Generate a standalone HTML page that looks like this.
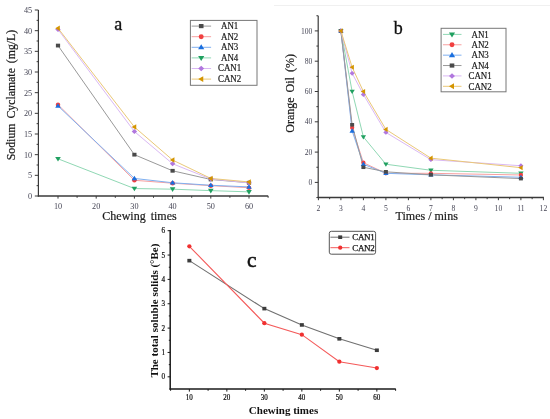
<!DOCTYPE html>
<html><head><meta charset="utf-8"><style>
html,body{margin:0;padding:0;background:#fff;}
svg{display:block;font-family:"Liberation Serif", serif;will-change:transform;}
</style></head><body>
<svg width="550" height="419" viewBox="0 0 550 419">
<rect width="550" height="419" fill="#fff"/>
<line x1="274" y1="5.5" x2="550" y2="5.5" stroke="#f0f0f0" stroke-width="1"/>
<line x1="38.40" y1="10.01" x2="38.40" y2="196.60" stroke="#3a3a3a" stroke-width="1.2" />
<line x1="37.80" y1="196.00" x2="268.20" y2="196.00" stroke="#3a3a3a" stroke-width="1.3" />
<line x1="34.80" y1="196.00" x2="38.40" y2="196.00" stroke="#3a3a3a" stroke-width="1" />
<text transform="translate(32.20 199.10)" font-size="8.2" text-anchor="end" fill="#454555" >0</text>
<line x1="34.80" y1="175.34" x2="38.40" y2="175.34" stroke="#3a3a3a" stroke-width="1" />
<text transform="translate(32.20 178.44)" font-size="8.2" text-anchor="end" fill="#454555" >5</text>
<line x1="34.80" y1="154.67" x2="38.40" y2="154.67" stroke="#3a3a3a" stroke-width="1" />
<text transform="translate(32.20 157.77)" font-size="8.2" text-anchor="end" fill="#454555" >10</text>
<line x1="34.80" y1="134.00" x2="38.40" y2="134.00" stroke="#3a3a3a" stroke-width="1" />
<text transform="translate(32.20 137.10)" font-size="8.2" text-anchor="end" fill="#454555" >15</text>
<line x1="34.80" y1="113.34" x2="38.40" y2="113.34" stroke="#3a3a3a" stroke-width="1" />
<text transform="translate(32.20 116.44)" font-size="8.2" text-anchor="end" fill="#454555" >20</text>
<line x1="34.80" y1="92.67" x2="38.40" y2="92.67" stroke="#3a3a3a" stroke-width="1" />
<text transform="translate(32.20 95.77)" font-size="8.2" text-anchor="end" fill="#454555" >25</text>
<line x1="34.80" y1="72.01" x2="38.40" y2="72.01" stroke="#3a3a3a" stroke-width="1" />
<text transform="translate(32.20 75.11)" font-size="8.2" text-anchor="end" fill="#454555" >30</text>
<line x1="34.80" y1="51.34" x2="38.40" y2="51.34" stroke="#3a3a3a" stroke-width="1" />
<text transform="translate(32.20 54.45)" font-size="8.2" text-anchor="end" fill="#454555" >35</text>
<line x1="34.80" y1="30.68" x2="38.40" y2="30.68" stroke="#3a3a3a" stroke-width="1" />
<text transform="translate(32.20 33.78)" font-size="8.2" text-anchor="end" fill="#454555" >40</text>
<line x1="34.80" y1="10.01" x2="38.40" y2="10.01" stroke="#3a3a3a" stroke-width="1" />
<text transform="translate(32.20 13.11)" font-size="8.2" text-anchor="end" fill="#454555" >45</text>
<line x1="36.60" y1="185.67" x2="38.40" y2="185.67" stroke="#3a3a3a" stroke-width="1" />
<line x1="36.60" y1="165.00" x2="38.40" y2="165.00" stroke="#3a3a3a" stroke-width="1" />
<line x1="36.60" y1="144.34" x2="38.40" y2="144.34" stroke="#3a3a3a" stroke-width="1" />
<line x1="36.60" y1="123.67" x2="38.40" y2="123.67" stroke="#3a3a3a" stroke-width="1" />
<line x1="36.60" y1="103.01" x2="38.40" y2="103.01" stroke="#3a3a3a" stroke-width="1" />
<line x1="36.60" y1="82.34" x2="38.40" y2="82.34" stroke="#3a3a3a" stroke-width="1" />
<line x1="36.60" y1="61.68" x2="38.40" y2="61.68" stroke="#3a3a3a" stroke-width="1" />
<line x1="36.60" y1="41.01" x2="38.40" y2="41.01" stroke="#3a3a3a" stroke-width="1" />
<line x1="36.60" y1="20.35" x2="38.40" y2="20.35" stroke="#3a3a3a" stroke-width="1" />
<line x1="58.00" y1="196.00" x2="58.00" y2="198.60" stroke="#3a3a3a" stroke-width="1" />
<text transform="translate(58.00 208.90)" font-size="8.2" text-anchor="middle" fill="#454555" >10</text>
<line x1="96.20" y1="196.00" x2="96.20" y2="198.60" stroke="#3a3a3a" stroke-width="1" />
<text transform="translate(96.20 208.90)" font-size="8.2" text-anchor="middle" fill="#454555" >20</text>
<line x1="134.40" y1="196.00" x2="134.40" y2="198.60" stroke="#3a3a3a" stroke-width="1" />
<text transform="translate(134.40 208.90)" font-size="8.2" text-anchor="middle" fill="#454555" >30</text>
<line x1="172.60" y1="196.00" x2="172.60" y2="198.60" stroke="#3a3a3a" stroke-width="1" />
<text transform="translate(172.60 208.90)" font-size="8.2" text-anchor="middle" fill="#454555" >40</text>
<line x1="210.80" y1="196.00" x2="210.80" y2="198.60" stroke="#3a3a3a" stroke-width="1" />
<text transform="translate(210.80 208.90)" font-size="8.2" text-anchor="middle" fill="#454555" >50</text>
<line x1="249.00" y1="196.00" x2="249.00" y2="198.60" stroke="#3a3a3a" stroke-width="1" />
<text transform="translate(249.00 208.90)" font-size="8.2" text-anchor="middle" fill="#454555" >60</text>
<line x1="77.10" y1="196.00" x2="77.10" y2="197.80" stroke="#3a3a3a" stroke-width="1" />
<line x1="115.30" y1="196.00" x2="115.30" y2="197.80" stroke="#3a3a3a" stroke-width="1" />
<line x1="153.50" y1="196.00" x2="153.50" y2="197.80" stroke="#3a3a3a" stroke-width="1" />
<line x1="191.70" y1="196.00" x2="191.70" y2="197.80" stroke="#3a3a3a" stroke-width="1" />
<line x1="229.90" y1="196.00" x2="229.90" y2="197.80" stroke="#3a3a3a" stroke-width="1" />
<line x1="268.10" y1="196.00" x2="268.10" y2="197.80" stroke="#3a3a3a" stroke-width="1" />
<polyline points="58.00,45.56 134.40,154.67 172.60,170.79 210.80,179.47 249.00,182.77" fill="none" stroke="#999999" stroke-width="1"/>
<polyline points="58.00,104.66 134.40,180.29 172.60,183.19 210.80,185.67 249.00,187.73" fill="none" stroke="#f7a0a0" stroke-width="1"/>
<polyline points="58.00,105.90 134.40,178.43 172.60,182.77 210.80,185.25 249.00,186.91" fill="none" stroke="#80b0f0" stroke-width="1"/>
<polyline points="58.00,158.80 134.40,188.56 172.60,189.18 210.80,190.63 249.00,191.87" fill="none" stroke="#90d8b4" stroke-width="1"/>
<polyline points="58.00,29.44 134.40,131.53 172.60,163.76 210.80,179.05 249.00,182.77" fill="none" stroke="#dab8f4" stroke-width="1"/>
<polyline points="58.00,28.20 134.40,126.98 172.60,160.04 210.80,178.43 249.00,181.95" fill="none" stroke="#eac878" stroke-width="1"/>
<rect x="55.90" y="43.67" width="4.20" height="3.78" fill="#4a4a4a"/>
<rect x="132.30" y="152.78" width="4.20" height="3.78" fill="#4a4a4a"/>
<rect x="170.50" y="168.90" width="4.20" height="3.78" fill="#4a4a4a"/>
<rect x="208.70" y="177.58" width="4.20" height="3.78" fill="#4a4a4a"/>
<rect x="246.90" y="180.88" width="4.20" height="3.78" fill="#4a4a4a"/>
<circle cx="58.00" cy="104.66" r="2.25" fill="#F14040"/>
<circle cx="134.40" cy="180.29" r="2.25" fill="#F14040"/>
<circle cx="172.60" cy="183.19" r="2.25" fill="#F14040"/>
<circle cx="210.80" cy="185.67" r="2.25" fill="#F14040"/>
<circle cx="249.00" cy="187.73" r="2.25" fill="#F14040"/>
<path d="M58.00,103.14 L60.80,107.74 L55.20,107.74Z" fill="#1A6FDF"/>
<path d="M134.40,175.67 L137.20,180.27 L131.60,180.27Z" fill="#1A6FDF"/>
<path d="M172.60,180.01 L175.40,184.61 L169.80,184.61Z" fill="#1A6FDF"/>
<path d="M210.80,182.49 L213.60,187.09 L208.00,187.09Z" fill="#1A6FDF"/>
<path d="M249.00,184.15 L251.80,188.75 L246.20,188.75Z" fill="#1A6FDF"/>
<path d="M58.00,161.56 L60.80,156.96 L55.20,156.96Z" fill="#20A060"/>
<path d="M134.40,191.32 L137.20,186.72 L131.60,186.72Z" fill="#20A060"/>
<path d="M172.60,191.94 L175.40,187.34 L169.80,187.34Z" fill="#20A060"/>
<path d="M210.80,193.39 L213.60,188.79 L208.00,188.79Z" fill="#20A060"/>
<path d="M249.00,194.63 L251.80,190.03 L246.20,190.03Z" fill="#20A060"/>
<path d="M58.00,26.94 L60.70,29.44 L58.00,31.94 L55.30,29.44Z" fill="#B177DE"/>
<path d="M134.40,129.03 L137.10,131.53 L134.40,134.03 L131.70,131.53Z" fill="#B177DE"/>
<path d="M172.60,161.26 L175.30,163.76 L172.60,166.26 L169.90,163.76Z" fill="#B177DE"/>
<path d="M210.80,176.55 L213.50,179.05 L210.80,181.55 L208.10,179.05Z" fill="#B177DE"/>
<path d="M249.00,180.27 L251.70,182.77 L249.00,185.27 L246.30,182.77Z" fill="#B177DE"/>
<path d="M55.24,28.20 L59.84,25.50 L59.84,30.90Z" fill="#D49500"/>
<path d="M131.64,126.98 L136.24,124.28 L136.24,129.68Z" fill="#D49500"/>
<path d="M169.84,160.04 L174.44,157.34 L174.44,162.74Z" fill="#D49500"/>
<path d="M208.04,178.43 L212.64,175.73 L212.64,181.13Z" fill="#D49500"/>
<path d="M246.24,181.95 L250.84,179.25 L250.84,184.65Z" fill="#D49500"/>
<text transform="translate(15.00 95.00) rotate(-90)" font-size="11.8" text-anchor="middle" fill="#1a1a1a" word-spacing="2" stroke="#1a1a1a" stroke-width="0.2">Sodium Cyclamate (mg/L)</text>
<text transform="translate(139.50 219.50)" font-size="12" text-anchor="middle" fill="#1a1a1a" word-spacing="2" stroke="#1a1a1a" stroke-width="0.2">Chewing times</text>
<text transform="translate(118.30 29.80)" font-size="18" text-anchor="middle" fill="#111" stroke="#111" stroke-width="0.35">a</text>
<rect x="190.4" y="20.4" width="66.6" height="64.9" fill="none" stroke="#777" stroke-width="1"/>
<line x1="191.60" y1="26.10" x2="211.10" y2="26.10" stroke="#999999" stroke-width="1" />
<rect x="198.89" y="24.02" width="4.62" height="4.16" fill="#4a4a4a"/>
<text transform="translate(229.60 29.30) scale(0.91 1.0)" font-size="9.8" text-anchor="middle" fill="#1a1a1a" stroke="#1a1a1a" stroke-width="0.2">AN1</text>
<line x1="191.60" y1="36.70" x2="211.10" y2="36.70" stroke="#f7a0a0" stroke-width="1" />
<circle cx="201.20" cy="36.70" r="2.48" fill="#F14040"/>
<text transform="translate(229.60 39.75) scale(0.91 1.0)" font-size="9.8" text-anchor="middle" fill="#1a1a1a" stroke="#1a1a1a" stroke-width="0.2">AN2</text>
<line x1="191.60" y1="47.30" x2="211.10" y2="47.30" stroke="#80b0f0" stroke-width="1" />
<path d="M201.20,44.26 L204.28,49.32 L198.12,49.32Z" fill="#1A6FDF"/>
<text transform="translate(229.60 50.20) scale(0.91 1.0)" font-size="9.8" text-anchor="middle" fill="#1a1a1a" stroke="#1a1a1a" stroke-width="0.2">AN3</text>
<line x1="191.60" y1="57.90" x2="211.10" y2="57.90" stroke="#90d8b4" stroke-width="1" />
<path d="M201.20,60.94 L204.28,55.88 L198.12,55.88Z" fill="#20A060"/>
<text transform="translate(229.60 60.65) scale(0.91 1.0)" font-size="9.8" text-anchor="middle" fill="#1a1a1a" stroke="#1a1a1a" stroke-width="0.2">AN4</text>
<line x1="191.60" y1="68.50" x2="211.10" y2="68.50" stroke="#dab8f4" stroke-width="1" />
<path d="M201.20,65.75 L204.17,68.50 L201.20,71.25 L198.23,68.50Z" fill="#B177DE"/>
<text transform="translate(229.60 71.10) scale(0.91 1.0)" font-size="9.8" text-anchor="middle" fill="#1a1a1a" stroke="#1a1a1a" stroke-width="0.2">CAN1</text>
<line x1="191.60" y1="79.10" x2="211.10" y2="79.10" stroke="#eac878" stroke-width="1" />
<path d="M198.16,79.10 L203.22,76.13 L203.22,82.07Z" fill="#D49500"/>
<text transform="translate(229.60 81.55) scale(0.91 1.0)" font-size="9.8" text-anchor="middle" fill="#1a1a1a" stroke="#1a1a1a" stroke-width="0.2">CAN2</text>
<line x1="318.20" y1="15.75" x2="318.20" y2="198.10" stroke="#3a3a3a" stroke-width="1.2" />
<line x1="317.60" y1="197.50" x2="543.90" y2="197.50" stroke="#3a3a3a" stroke-width="1.3" />
<line x1="314.80" y1="182.40" x2="318.20" y2="182.40" stroke="#3a3a3a" stroke-width="1" />
<text transform="translate(312.30 185.00)" font-size="7.6" text-anchor="end" fill="#454555" >0</text>
<line x1="314.80" y1="152.10" x2="318.20" y2="152.10" stroke="#3a3a3a" stroke-width="1" />
<text transform="translate(312.30 154.70)" font-size="7.6" text-anchor="end" fill="#454555" >20</text>
<line x1="314.80" y1="121.80" x2="318.20" y2="121.80" stroke="#3a3a3a" stroke-width="1" />
<text transform="translate(312.30 124.40)" font-size="7.6" text-anchor="end" fill="#454555" >40</text>
<line x1="314.80" y1="91.50" x2="318.20" y2="91.50" stroke="#3a3a3a" stroke-width="1" />
<text transform="translate(312.30 94.10)" font-size="7.6" text-anchor="end" fill="#454555" >60</text>
<line x1="314.80" y1="61.20" x2="318.20" y2="61.20" stroke="#3a3a3a" stroke-width="1" />
<text transform="translate(312.30 63.80)" font-size="7.6" text-anchor="end" fill="#454555" >80</text>
<line x1="314.80" y1="30.90" x2="318.20" y2="30.90" stroke="#3a3a3a" stroke-width="1" />
<text transform="translate(312.30 33.50)" font-size="7.6" text-anchor="end" fill="#454555" >100</text>
<line x1="316.40" y1="197.55" x2="318.20" y2="197.55" stroke="#3a3a3a" stroke-width="1" />
<line x1="316.40" y1="167.25" x2="318.20" y2="167.25" stroke="#3a3a3a" stroke-width="1" />
<line x1="316.40" y1="136.95" x2="318.20" y2="136.95" stroke="#3a3a3a" stroke-width="1" />
<line x1="316.40" y1="106.65" x2="318.20" y2="106.65" stroke="#3a3a3a" stroke-width="1" />
<line x1="316.40" y1="76.35" x2="318.20" y2="76.35" stroke="#3a3a3a" stroke-width="1" />
<line x1="316.40" y1="46.05" x2="318.20" y2="46.05" stroke="#3a3a3a" stroke-width="1" />
<line x1="316.40" y1="15.75" x2="318.20" y2="15.75" stroke="#3a3a3a" stroke-width="1" />
<line x1="318.40" y1="197.50" x2="318.40" y2="200.20" stroke="#3a3a3a" stroke-width="1" />
<text transform="translate(318.40 210.60)" font-size="7.6" text-anchor="middle" fill="#454555" >2</text>
<line x1="340.90" y1="197.50" x2="340.90" y2="200.20" stroke="#3a3a3a" stroke-width="1" />
<text transform="translate(340.90 210.60)" font-size="7.6" text-anchor="middle" fill="#454555" >3</text>
<line x1="363.40" y1="197.50" x2="363.40" y2="200.20" stroke="#3a3a3a" stroke-width="1" />
<text transform="translate(363.40 210.60)" font-size="7.6" text-anchor="middle" fill="#454555" >4</text>
<line x1="385.90" y1="197.50" x2="385.90" y2="200.20" stroke="#3a3a3a" stroke-width="1" />
<text transform="translate(385.90 210.60)" font-size="7.6" text-anchor="middle" fill="#454555" >5</text>
<line x1="408.40" y1="197.50" x2="408.40" y2="200.20" stroke="#3a3a3a" stroke-width="1" />
<text transform="translate(408.40 210.60)" font-size="7.6" text-anchor="middle" fill="#454555" >6</text>
<line x1="430.90" y1="197.50" x2="430.90" y2="200.20" stroke="#3a3a3a" stroke-width="1" />
<text transform="translate(430.90 210.60)" font-size="7.6" text-anchor="middle" fill="#454555" >7</text>
<line x1="453.40" y1="197.50" x2="453.40" y2="200.20" stroke="#3a3a3a" stroke-width="1" />
<text transform="translate(453.40 210.60)" font-size="7.6" text-anchor="middle" fill="#454555" >8</text>
<line x1="475.90" y1="197.50" x2="475.90" y2="200.20" stroke="#3a3a3a" stroke-width="1" />
<text transform="translate(475.90 210.60)" font-size="7.6" text-anchor="middle" fill="#454555" >9</text>
<line x1="498.40" y1="197.50" x2="498.40" y2="200.20" stroke="#3a3a3a" stroke-width="1" />
<text transform="translate(498.40 210.60)" font-size="7.6" text-anchor="middle" fill="#454555" >10</text>
<line x1="520.90" y1="197.50" x2="520.90" y2="200.20" stroke="#3a3a3a" stroke-width="1" />
<text transform="translate(520.90 210.60)" font-size="7.6" text-anchor="middle" fill="#454555" >11</text>
<line x1="543.40" y1="197.50" x2="543.40" y2="200.20" stroke="#3a3a3a" stroke-width="1" />
<text transform="translate(543.40 210.60)" font-size="7.6" text-anchor="middle" fill="#454555" >12</text>
<line x1="329.65" y1="197.50" x2="329.65" y2="199.20" stroke="#3a3a3a" stroke-width="1" />
<line x1="352.15" y1="197.50" x2="352.15" y2="199.20" stroke="#3a3a3a" stroke-width="1" />
<line x1="374.65" y1="197.50" x2="374.65" y2="199.20" stroke="#3a3a3a" stroke-width="1" />
<line x1="397.15" y1="197.50" x2="397.15" y2="199.20" stroke="#3a3a3a" stroke-width="1" />
<line x1="419.65" y1="197.50" x2="419.65" y2="199.20" stroke="#3a3a3a" stroke-width="1" />
<line x1="442.15" y1="197.50" x2="442.15" y2="199.20" stroke="#3a3a3a" stroke-width="1" />
<line x1="464.65" y1="197.50" x2="464.65" y2="199.20" stroke="#3a3a3a" stroke-width="1" />
<line x1="487.15" y1="197.50" x2="487.15" y2="199.20" stroke="#3a3a3a" stroke-width="1" />
<line x1="509.65" y1="197.50" x2="509.65" y2="199.20" stroke="#3a3a3a" stroke-width="1" />
<line x1="532.15" y1="197.50" x2="532.15" y2="199.20" stroke="#3a3a3a" stroke-width="1" />
<polyline points="340.90,30.90 352.15,91.50 363.40,136.95 385.90,164.22 430.90,170.28 520.90,173.31" fill="none" stroke="#90d8b4" stroke-width="1"/>
<polyline points="340.90,30.90 352.15,127.86 363.40,162.71 385.90,173.31 430.90,173.31 520.90,174.98" fill="none" stroke="#f7a0a0" stroke-width="1"/>
<polyline points="340.90,30.90 352.15,130.89 363.40,164.22 385.90,173.31 430.90,174.83 520.90,177.25" fill="none" stroke="#80b0f0" stroke-width="1"/>
<polyline points="340.90,30.90 352.15,124.83 363.40,167.25 385.90,171.80 430.90,174.83 520.90,178.61" fill="none" stroke="#999999" stroke-width="1"/>
<polyline points="340.90,30.90 352.15,73.32 363.40,94.53 385.90,132.41 430.90,159.68 520.90,165.74" fill="none" stroke="#dab8f4" stroke-width="1"/>
<polyline points="340.90,30.90 352.15,67.26 363.40,91.50 385.90,129.38 430.90,158.16 520.90,167.70" fill="none" stroke="#eac878" stroke-width="1"/>
<path d="M340.90,33.52 L343.56,29.15 L338.24,29.15Z" fill="#20A060"/>
<path d="M352.15,94.12 L354.81,89.75 L349.49,89.75Z" fill="#20A060"/>
<path d="M363.40,139.57 L366.06,135.20 L360.74,135.20Z" fill="#20A060"/>
<path d="M385.90,166.84 L388.56,162.47 L383.24,162.47Z" fill="#20A060"/>
<path d="M430.90,172.90 L433.56,168.53 L428.24,168.53Z" fill="#20A060"/>
<path d="M520.90,175.93 L523.56,171.56 L518.24,171.56Z" fill="#20A060"/>
<circle cx="340.90" cy="30.90" r="2.14" fill="#F14040"/>
<circle cx="352.15" cy="127.86" r="2.14" fill="#F14040"/>
<circle cx="363.40" cy="162.71" r="2.14" fill="#F14040"/>
<circle cx="385.90" cy="173.31" r="2.14" fill="#F14040"/>
<circle cx="430.90" cy="173.31" r="2.14" fill="#F14040"/>
<circle cx="520.90" cy="174.98" r="2.14" fill="#F14040"/>
<path d="M340.90,28.28 L343.56,32.65 L338.24,32.65Z" fill="#1A6FDF"/>
<path d="M352.15,128.27 L354.81,132.64 L349.49,132.64Z" fill="#1A6FDF"/>
<path d="M363.40,161.60 L366.06,165.97 L360.74,165.97Z" fill="#1A6FDF"/>
<path d="M385.90,170.69 L388.56,175.06 L383.24,175.06Z" fill="#1A6FDF"/>
<path d="M430.90,172.20 L433.56,176.57 L428.24,176.57Z" fill="#1A6FDF"/>
<path d="M520.90,174.63 L523.56,179.00 L518.24,179.00Z" fill="#1A6FDF"/>
<rect x="338.90" y="29.10" width="3.99" height="3.59" fill="#4a4a4a"/>
<rect x="350.15" y="123.03" width="3.99" height="3.59" fill="#4a4a4a"/>
<rect x="361.40" y="165.45" width="3.99" height="3.59" fill="#4a4a4a"/>
<rect x="383.90" y="170.00" width="3.99" height="3.59" fill="#4a4a4a"/>
<rect x="428.90" y="173.03" width="3.99" height="3.59" fill="#4a4a4a"/>
<rect x="518.90" y="176.82" width="3.99" height="3.59" fill="#4a4a4a"/>
<path d="M340.90,28.53 L343.46,30.90 L340.90,33.28 L338.33,30.90Z" fill="#B177DE"/>
<path d="M352.15,70.95 L354.71,73.32 L352.15,75.70 L349.58,73.32Z" fill="#B177DE"/>
<path d="M363.40,92.16 L365.96,94.53 L363.40,96.91 L360.83,94.53Z" fill="#B177DE"/>
<path d="M385.90,130.03 L388.46,132.41 L385.90,134.78 L383.33,132.41Z" fill="#B177DE"/>
<path d="M430.90,157.30 L433.46,159.68 L430.90,162.05 L428.33,159.68Z" fill="#B177DE"/>
<path d="M520.90,163.36 L523.47,165.74 L520.90,168.11 L518.33,165.74Z" fill="#B177DE"/>
<path d="M338.28,30.90 L342.65,28.34 L342.65,33.47Z" fill="#D49500"/>
<path d="M349.53,67.26 L353.90,64.70 L353.90,69.83Z" fill="#D49500"/>
<path d="M360.78,91.50 L365.15,88.94 L365.15,94.07Z" fill="#D49500"/>
<path d="M383.28,129.38 L387.65,126.81 L387.65,131.94Z" fill="#D49500"/>
<path d="M428.28,158.16 L432.65,155.59 L432.65,160.72Z" fill="#D49500"/>
<path d="M518.28,167.70 L522.65,165.14 L522.65,170.27Z" fill="#D49500"/>
<text transform="translate(294.20 93.40) rotate(-90)" font-size="12" text-anchor="middle" fill="#1a1a1a" word-spacing="2" stroke="#1a1a1a" stroke-width="0.2">Orange Oil (%)</text>
<text transform="translate(426.70 219.60)" font-size="12" text-anchor="middle" fill="#1a1a1a" stroke="#1a1a1a" stroke-width="0.2">Times / mins</text>
<text transform="translate(398.20 34.00)" font-size="18" text-anchor="middle" fill="#111" stroke="#111" stroke-width="0.35">b</text>
<rect x="441.1" y="28.3" width="64.9" height="63.5" fill="none" stroke="#777" stroke-width="1"/>
<line x1="443.00" y1="34.40" x2="461.50" y2="34.40" stroke="#90d8b4" stroke-width="1" />
<path d="M452.00,37.44 L455.08,32.38 L448.92,32.38Z" fill="#20A060"/>
<text transform="translate(480.10 37.70) scale(0.91 1.0)" font-size="9.8" text-anchor="middle" fill="#1a1a1a" stroke="#1a1a1a" stroke-width="0.2">AN1</text>
<line x1="443.00" y1="44.78" x2="461.50" y2="44.78" stroke="#f7a0a0" stroke-width="1" />
<circle cx="452.00" cy="44.78" r="2.48" fill="#F14040"/>
<text transform="translate(480.10 48.08) scale(0.91 1.0)" font-size="9.8" text-anchor="middle" fill="#1a1a1a" stroke="#1a1a1a" stroke-width="0.2">AN2</text>
<line x1="443.00" y1="55.16" x2="461.50" y2="55.16" stroke="#80b0f0" stroke-width="1" />
<path d="M452.00,52.12 L455.08,57.18 L448.92,57.18Z" fill="#1A6FDF"/>
<text transform="translate(480.10 58.46) scale(0.91 1.0)" font-size="9.8" text-anchor="middle" fill="#1a1a1a" stroke="#1a1a1a" stroke-width="0.2">AN3</text>
<line x1="443.00" y1="65.54" x2="461.50" y2="65.54" stroke="#999999" stroke-width="1" />
<rect x="449.69" y="63.46" width="4.62" height="4.16" fill="#4a4a4a"/>
<text transform="translate(480.10 68.84) scale(0.91 1.0)" font-size="9.8" text-anchor="middle" fill="#1a1a1a" stroke="#1a1a1a" stroke-width="0.2">AN4</text>
<line x1="443.00" y1="75.92" x2="461.50" y2="75.92" stroke="#dab8f4" stroke-width="1" />
<path d="M452.00,73.17 L454.97,75.92 L452.00,78.67 L449.03,75.92Z" fill="#B177DE"/>
<text transform="translate(480.10 79.22) scale(0.91 1.0)" font-size="9.8" text-anchor="middle" fill="#1a1a1a" stroke="#1a1a1a" stroke-width="0.2">CAN1</text>
<line x1="443.00" y1="86.30" x2="461.50" y2="86.30" stroke="#eac878" stroke-width="1" />
<path d="M448.96,86.30 L454.02,83.33 L454.02,89.27Z" fill="#D49500"/>
<text transform="translate(480.10 89.60) scale(0.91 1.0)" font-size="9.8" text-anchor="middle" fill="#1a1a1a" stroke="#1a1a1a" stroke-width="0.2">CAN2</text>
<line x1="170.20" y1="230.00" x2="170.20" y2="389.80" stroke="#1a1a1a" stroke-width="1.5" />
<line x1="169.50" y1="389.10" x2="395.80" y2="389.10" stroke="#1a1a1a" stroke-width="1.5" />
<line x1="167.60" y1="376.80" x2="170.20" y2="376.80" stroke="#1a1a1a" stroke-width="1" />
<text transform="translate(165.20 379.30)" font-size="7.2" text-anchor="end" fill="#111" stroke="#111" stroke-width="0.2">0</text>
<line x1="167.60" y1="352.45" x2="170.20" y2="352.45" stroke="#1a1a1a" stroke-width="1" />
<text transform="translate(165.20 354.95)" font-size="7.2" text-anchor="end" fill="#111" stroke="#111" stroke-width="0.2">1</text>
<line x1="167.60" y1="328.10" x2="170.20" y2="328.10" stroke="#1a1a1a" stroke-width="1" />
<text transform="translate(165.20 330.60)" font-size="7.2" text-anchor="end" fill="#111" stroke="#111" stroke-width="0.2">2</text>
<line x1="167.60" y1="303.75" x2="170.20" y2="303.75" stroke="#1a1a1a" stroke-width="1" />
<text transform="translate(165.20 306.25)" font-size="7.2" text-anchor="end" fill="#111" stroke="#111" stroke-width="0.2">3</text>
<line x1="167.60" y1="279.40" x2="170.20" y2="279.40" stroke="#1a1a1a" stroke-width="1" />
<text transform="translate(165.20 281.90)" font-size="7.2" text-anchor="end" fill="#111" stroke="#111" stroke-width="0.2">4</text>
<line x1="167.60" y1="255.05" x2="170.20" y2="255.05" stroke="#1a1a1a" stroke-width="1" />
<text transform="translate(165.20 257.55)" font-size="7.2" text-anchor="end" fill="#111" stroke="#111" stroke-width="0.2">5</text>
<line x1="167.60" y1="230.70" x2="170.20" y2="230.70" stroke="#1a1a1a" stroke-width="1" />
<text transform="translate(165.20 233.20)" font-size="7.2" text-anchor="end" fill="#111" stroke="#111" stroke-width="0.2">6</text>
<line x1="168.80" y1="364.62" x2="170.20" y2="364.62" stroke="#1a1a1a" stroke-width="1" />
<line x1="168.80" y1="340.27" x2="170.20" y2="340.27" stroke="#1a1a1a" stroke-width="1" />
<line x1="168.80" y1="315.93" x2="170.20" y2="315.93" stroke="#1a1a1a" stroke-width="1" />
<line x1="168.80" y1="291.57" x2="170.20" y2="291.57" stroke="#1a1a1a" stroke-width="1" />
<line x1="168.80" y1="267.23" x2="170.20" y2="267.23" stroke="#1a1a1a" stroke-width="1" />
<line x1="168.80" y1="242.88" x2="170.20" y2="242.88" stroke="#1a1a1a" stroke-width="1" />
<line x1="189.35" y1="389.00" x2="189.35" y2="391.60" stroke="#1a1a1a" stroke-width="1" />
<text transform="translate(189.35 399.50) scale(1.0 1.05)" font-size="7" text-anchor="middle" fill="#111" stroke="#111" stroke-width="0.2">10</text>
<line x1="226.85" y1="389.00" x2="226.85" y2="391.60" stroke="#1a1a1a" stroke-width="1" />
<text transform="translate(226.85 399.50) scale(1.0 1.05)" font-size="7" text-anchor="middle" fill="#111" stroke="#111" stroke-width="0.2">20</text>
<line x1="264.35" y1="389.00" x2="264.35" y2="391.60" stroke="#1a1a1a" stroke-width="1" />
<text transform="translate(264.35 399.50) scale(1.0 1.05)" font-size="7" text-anchor="middle" fill="#111" stroke="#111" stroke-width="0.2">30</text>
<line x1="301.85" y1="389.00" x2="301.85" y2="391.60" stroke="#1a1a1a" stroke-width="1" />
<text transform="translate(301.85 399.50) scale(1.0 1.05)" font-size="7" text-anchor="middle" fill="#111" stroke="#111" stroke-width="0.2">40</text>
<line x1="339.35" y1="389.00" x2="339.35" y2="391.60" stroke="#1a1a1a" stroke-width="1" />
<text transform="translate(339.35 399.50) scale(1.0 1.05)" font-size="7" text-anchor="middle" fill="#111" stroke="#111" stroke-width="0.2">50</text>
<line x1="376.85" y1="389.00" x2="376.85" y2="391.60" stroke="#1a1a1a" stroke-width="1" />
<text transform="translate(376.85 399.50) scale(1.0 1.05)" font-size="7" text-anchor="middle" fill="#111" stroke="#111" stroke-width="0.2">60</text>
<line x1="170.60" y1="389.00" x2="170.60" y2="390.80" stroke="#1a1a1a" stroke-width="1" />
<line x1="208.10" y1="389.00" x2="208.10" y2="390.80" stroke="#1a1a1a" stroke-width="1" />
<line x1="245.60" y1="389.00" x2="245.60" y2="390.80" stroke="#1a1a1a" stroke-width="1" />
<line x1="283.10" y1="389.00" x2="283.10" y2="390.80" stroke="#1a1a1a" stroke-width="1" />
<line x1="320.60" y1="389.00" x2="320.60" y2="390.80" stroke="#1a1a1a" stroke-width="1" />
<line x1="358.10" y1="389.00" x2="358.10" y2="390.80" stroke="#1a1a1a" stroke-width="1" />
<line x1="395.60" y1="389.00" x2="395.60" y2="390.80" stroke="#1a1a1a" stroke-width="1" />
<polyline points="189.35,260.65 264.35,308.62 301.85,324.93 339.35,338.81 376.85,350.26" fill="none" stroke="#707070" stroke-width="1.1"/>
<polyline points="189.35,246.28 264.35,323.23 301.85,334.67 339.35,361.70 376.85,368.03" fill="none" stroke="#f45a5a" stroke-width="1.1"/>
<rect x="187.35" y="258.86" width="3.99" height="3.59" fill="#3c3c3c"/>
<rect x="262.36" y="306.82" width="3.99" height="3.59" fill="#3c3c3c"/>
<rect x="299.86" y="323.14" width="3.99" height="3.59" fill="#3c3c3c"/>
<rect x="337.36" y="337.02" width="3.99" height="3.59" fill="#3c3c3c"/>
<rect x="374.86" y="348.46" width="3.99" height="3.59" fill="#3c3c3c"/>
<circle cx="189.35" cy="246.28" r="2.14" fill="#f03030"/>
<circle cx="264.35" cy="323.23" r="2.14" fill="#f03030"/>
<circle cx="301.85" cy="334.67" r="2.14" fill="#f03030"/>
<circle cx="339.35" cy="361.70" r="2.14" fill="#f03030"/>
<circle cx="376.85" cy="368.03" r="2.14" fill="#f03030"/>
<text transform="translate(157.60 310.60) rotate(-90)" font-size="11" text-anchor="middle" fill="#111" font-weight="bold" >The total soluble solids (°Be)</text>
<text transform="translate(283.50 413.80)" font-size="11" text-anchor="middle" fill="#111" font-weight="bold" >Chewing times</text>
<text transform="translate(251.80 266.80)" font-size="21.5" text-anchor="middle" fill="#111" stroke="#111" stroke-width="0.5">c</text>
<rect x="329.3" y="231.3" width="46.3" height="22.9" rx="2" fill="none" stroke="#555" stroke-width="1"/>
<line x1="330.40" y1="237.20" x2="349.50" y2="237.20" stroke="#707070" stroke-width="1" />
<rect x="338.20" y="235.40" width="3.99" height="3.59" fill="#3c3c3c"/>
<text transform="translate(352.20 240.40)" font-size="9" text-anchor="start" fill="#111" letter-spacing="-0.3" stroke="#111" stroke-width="0.25">CAN1</text>
<line x1="330.40" y1="247.70" x2="349.50" y2="247.70" stroke="#f45a5a" stroke-width="1" />
<circle cx="340.20" cy="247.70" r="2.14" fill="#f03030"/>
<text transform="translate(352.20 250.90)" font-size="9" text-anchor="start" fill="#111" letter-spacing="-0.3" stroke="#111" stroke-width="0.25">CAN2</text>
</svg>
</body></html>
